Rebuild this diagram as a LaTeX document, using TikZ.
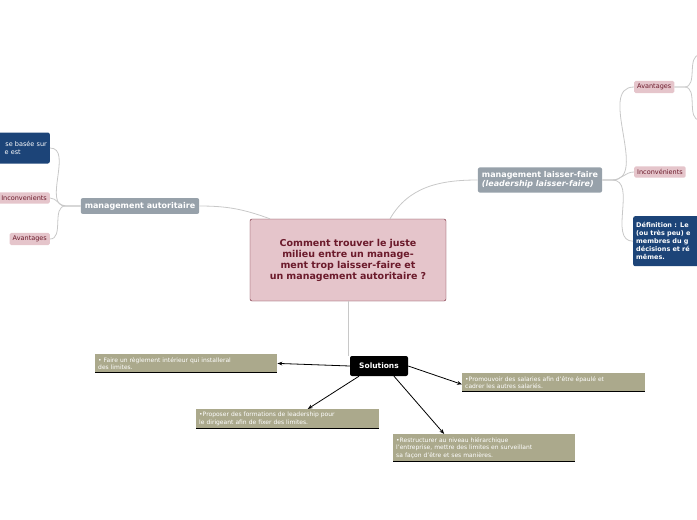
\documentclass[tikz,border=0pt]{standalone}
\usepackage{fontspec}
\setmainfont{DejaVu Sans}
\usetikzlibrary{positioning,arrows.meta}

\definecolor{rosefill}{HTML}{E5C5CB}
\definecolor{rosetext}{HTML}{6B1A2B}
\definecolor{branchgray}{HTML}{97A1AA}
\definecolor{darkblue}{HTML}{1C4478}
\definecolor{olivebox}{HTML}{ABA98C}
\definecolor{linkgray}{HTML}{C8C8C8}

\begin{document}
\begin{tikzpicture}[x=1pt,y=-1pt]

% Define styles
\tikzset{
  central/.style={rectangle, rounded corners=2pt, draw=rosetext, fill=rosefill, text=rosetext, font=\bfseries\fontsize{9.5}{11}\selectfont, text width=170pt, align=center, minimum width=196pt, minimum height=82pt},
  branch/.style={rectangle, rounded corners=2pt, fill=branchgray, text=white, font=\bfseries\fontsize{8}{9.5}\selectfont, align=left, inner sep=4pt},
  tag/.style={rectangle, rounded corners=1.5pt, fill=rosefill, text=rosetext, font=\fontsize{6.5}{8}\selectfont, inner sep=3pt},
  defbox/.style={rectangle, rounded corners=2pt, fill=darkblue, text=white, font=\fontsize{6.5}{8}\selectfont, align=left, inner sep=3pt},
  solbox/.style={rectangle, fill=olivebox, text=white, font=\fontsize{6}{7.5}\selectfont, align=left, inner sep=3pt, anchor=north west},
  link/.style={draw=linkgray, line width=0.8pt},
  arrow/.style={thick, -{Stealth[length=5pt]}}
}

\useasboundingbox (0,0) rectangle (697,520);
\clip (0,0) rectangle (697,520);

% Nodes
\node [central] (main) at (348,260) {Comment trouver le juste milieu entre un management trop laisser-faire et un management autoritaire ?};
\node [branch] (auto) at (140,206) {management autoritaire};
\node [branch] (laisser) at (540,180) {management laisser-faire\\\textit{(leadership laisser-faire)}};
\node [rectangle, rounded corners=2pt, fill=black, text=white, font=\bfseries\fontsize{7.5}{9}\selectfont, minimum width=58pt, minimum height=20pt] (sol) at (379,366) {Solutions};

% Left branch
\node [defbox, anchor=east, text width=60pt, align=right, minimum height=31pt] (autodef) at (50,148) {se basée sur\\e est\hspace*{26pt}};
\node [tag, anchor=east] (autoinc) at (50,198) {Inconvenients};
\node [tag, anchor=east] (autoav) at (50,239) {Avantages};

% Right branch
\node [tag, anchor=west] (lfav) at (634,87) {Avantages};
\node [tag, anchor=west] (lfinc) at (634,172) {Inconvénients};
\node [defbox, anchor=north west, font=\bfseries\fontsize{6.5}{8}\selectfont, text width=80pt, minimum height=50pt] (lfdef) at (633,216) {Définition : Le\\(ou très peu) e\\membres du g\\décisions et ré\\mêmes.};
\coordinate (av1) at (700,55);
\coordinate (av2) at (700,120);

% Solutions
\node [solbox, text width=176pt] (s1) at (95,354) {• Faire un règlement intérieur qui installeral\\des limites.};
\node [solbox, text width=177pt] (s2) at (196,409) {•Proposer des formations de leadership pour\\le dirigeant afin de fixer des limites.};
\node [solbox, text width=177pt] (s3) at (462,373) {•Promouvoir des salaries afin d'être épaulé et\\cadrer les autres salariés.};
\node [solbox, text width=176pt] (s4) at (393,434) {•Restructurer au niveau hiérarchique\\l'entreprise, mettre des limites en surveillant\\sa façon d'être et ses manières.};
\foreach \s in {s1,s2,s3,s4}
  \draw [line width=1.2pt] (\s.south west) -- (\s.south east);

% Links
\draw [link] (auto.east) to[out=0, in=160] ([xshift=-78pt]main.north);
\draw [link] (laisser.west) to[out=180, in=60] ([xshift=42pt]main.north);
\draw [link] (main.south) -- (sol.north -| main.south);
\foreach \t in {autodef,autoinc,autoav}
  \draw [link] (auto.west) -- ++(-15,0) to[out=180, in=0] (\t.east);
\foreach \t in {lfav,lfinc,lfdef}
  \draw [link] (laisser.east) -- ++(10,0) to[out=0, in=180] (\t.west);
\foreach \t in {av1,av2}
  \draw [link] (lfav.east) -- ++(10,0) to[out=0, in=180] (\t);

% Arrows
\draw [arrow] (sol.west) -- (s1.east);
\draw [arrow] ([xshift=-20pt]sol.south) -- ([xshift=20pt]s2.north);
\draw [arrow] (sol.east) -- ([yshift=-2pt]s3.west);
\draw [arrow] ([xshift=15pt]sol.south) -- ([xshift=-40pt]s4.north);

\end{tikzpicture}
\end{document}
